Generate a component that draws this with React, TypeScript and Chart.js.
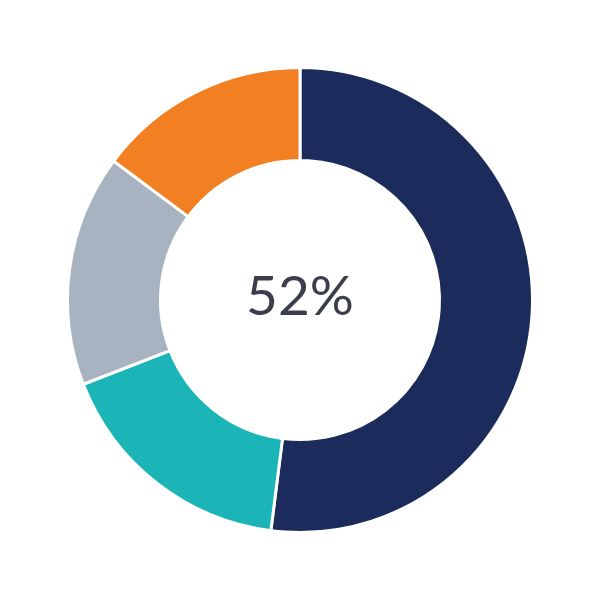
import { useEffect, useRef } from "react";
import { Chart, registerables, Plugin } from "chart.js";

Chart.register(...registerables);

const labels = ["A", "B", "C", "D"];
const values = [52, 17.1, 16.1, 14.8];
const colors = ["#1B2B5B", "#1BB5B8", "#A8B3C2", "#F27F22"];
const centerLabel = "52%";

const centerText: Plugin<"doughnut"> = {
  id: "centerText",
  afterDraw(chart) {
    const { ctx, chartArea } = chart;
    const x = (chartArea.left + chartArea.right) / 2;
    const y = (chartArea.top + chartArea.bottom) / 2;
    ctx.save();
    ctx.font = "400 55px Lato";
    ctx.fillStyle = "#3A3F4B";
    ctx.textAlign = "center";
    ctx.textBaseline = "middle";
    ctx.fillText(centerLabel, x, y - 3);
    ctx.restore();
  },
};

export default function App() {
  const canvasRef = useRef<HTMLCanvasElement>(null);

  useEffect(() => {
    document.body.style.margin = "0";
    if (!canvasRef.current) return;
    const chart = new Chart(canvasRef.current, {
      type: "doughnut",
      data: {
        labels,
        datasets: [
          {
            data: values,
            backgroundColor: colors,
            borderColor: "#ffffff",
            borderWidth: 3,
          },
        ],
      },
      options: {
        responsive: false,
        animation: false,
        cutout: "60%",
        layout: { padding: 66 },
        plugins: {
          legend: { display: false },
          tooltip: { enabled: false },
        },
      },
      plugins: [centerText],
    });
    return () => chart.destroy();
  }, []);

  return <canvas ref={canvasRef} width={600} height={600} style={{ display: "block" }} />;
}
